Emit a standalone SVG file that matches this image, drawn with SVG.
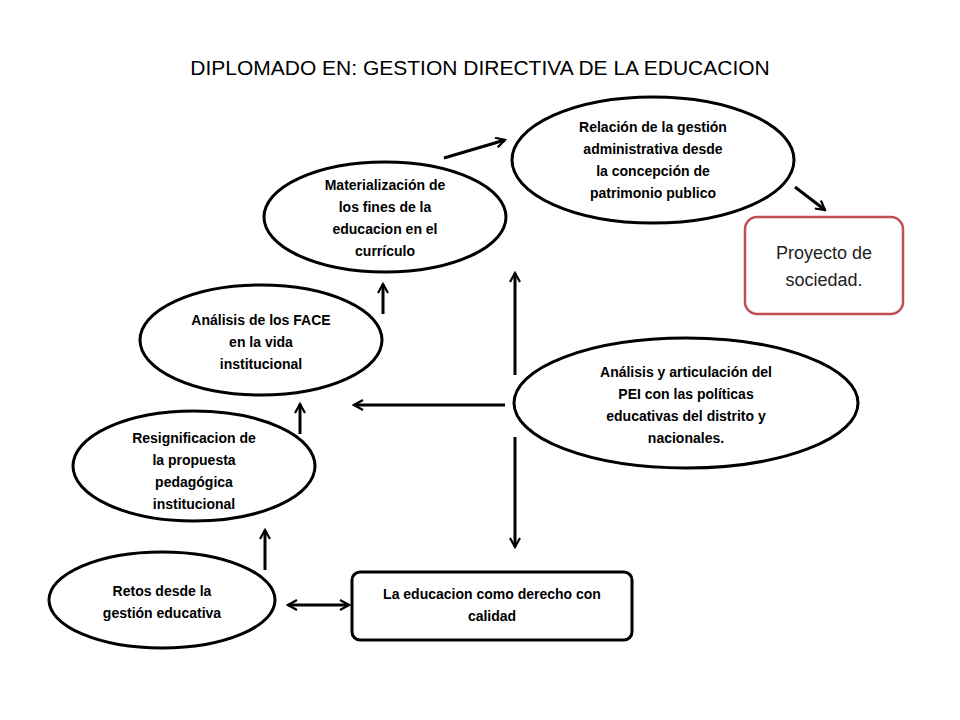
<svg xmlns="http://www.w3.org/2000/svg" width="960" height="720" viewBox="0 0 960 720">
<style>
.n{fill:#fff;stroke:#000;stroke-width:3}
.t{font-family:"Liberation Sans",Arial,sans-serif;font-weight:bold;font-size:14px;fill:#000;text-anchor:middle}
.c line{stroke:#000;stroke-width:3}
</style>
<defs>
<marker id="a" viewBox="0 0 12 12" refX="10" refY="6" markerWidth="4" markerHeight="4" orient="auto-start-reverse" markerUnits="strokeWidth">
<path d="M1,1 L10,6 L1,11" fill="none" stroke="#000" stroke-width="2.2"/>
</marker>
</defs>
<rect width="960" height="720" fill="#fff"/>
<text x="480" y="75" font-family="'Liberation Sans',Arial,sans-serif" font-size="21" text-anchor="middle">DIPLOMADO EN: GESTION DIRECTIVA DE LA EDUCACION</text>
<g id="retos"><ellipse class="n" cx="162" cy="600" rx="113" ry="48"/><text class="t" x="162" y="596">Retos desde la</text><text class="t" x="162" y="618">gestión educativa</text></g>
<g id="resig"><ellipse class="n" cx="194" cy="466" rx="121" ry="55"/><text class="t" x="194" y="443">Resignificacion de</text><text class="t" x="194" y="465">la propuesta</text><text class="t" x="194" y="487">pedagógica</text><text class="t" x="194" y="509">institucional</text></g>
<g id="face"><ellipse class="n" cx="261" cy="340" rx="121" ry="55"/><text class="t" x="261" y="325">Análisis de los FACE</text><text class="t" x="261" y="347">en la vida</text><text class="t" x="261" y="369">institucional</text></g>
<g id="mat"><ellipse class="n" cx="385" cy="217" rx="121" ry="55"/><text class="t" x="385" y="190">Materialización de</text><text class="t" x="385" y="212">los fines de la</text><text class="t" x="385" y="234">educacion en el</text><text class="t" x="385" y="256">currículo</text></g>
<g id="rel"><ellipse class="n" cx="653" cy="160" rx="141" ry="63"/><text class="t" x="653" y="132">Relación de la gestión</text><text class="t" x="653" y="154">administrativa desde</text><text class="t" x="653" y="176">la concepción de</text><text class="t" x="653" y="198">patrimonio publico</text></g>
<g id="pei"><ellipse class="n" cx="686" cy="403" rx="172" ry="65"/><text class="t" x="686" y="377">Análisis y articulación  del</text><text class="t" x="686" y="399">PEI con las políticas</text><text class="t" x="686" y="421">educativas del distrito y</text><text class="t" x="686" y="443">nacionales.</text></g>
<g id="edu"><rect class="n" x="352" y="572" width="280" height="68" rx="8"/><text class="t" x="492" y="599">La educacion como derecho con</text><text class="t" x="492" y="621">calidad</text></g>
<g id="proy"><rect x="745" y="217" width="158" height="97" rx="12" fill="#fff" stroke="#c0504d" stroke-width="2.5"/><text x="824" y="259" font-family="'Liberation Sans',Arial,sans-serif" font-size="18" fill="#222" text-anchor="middle">Proyecto de</text><text x="824" y="286" font-family="'Liberation Sans',Arial,sans-serif" font-size="18" fill="#222" text-anchor="middle">sociedad.</text></g>
<g class="c" id="connectors">
<line x1="265" y1="570" x2="265" y2="530" marker-end="url(#a)"/>
<line x1="300" y1="434" x2="300" y2="404" marker-end="url(#a)"/>
<line x1="383" y1="314" x2="383" y2="284" marker-end="url(#a)"/>
<line x1="444" y1="158" x2="505" y2="140" marker-end="url(#a)"/>
<line x1="795" y1="187" x2="825" y2="210" marker-end="url(#a)"/>
<line x1="515" y1="375" x2="515" y2="273" marker-end="url(#a)"/>
<line x1="505" y1="405" x2="354" y2="405" marker-end="url(#a)"/>
<line x1="515" y1="437" x2="515" y2="547" marker-end="url(#a)"/>
<line x1="288" y1="605" x2="349" y2="605" marker-start="url(#a)" marker-end="url(#a)"/>
</g>
</svg>
